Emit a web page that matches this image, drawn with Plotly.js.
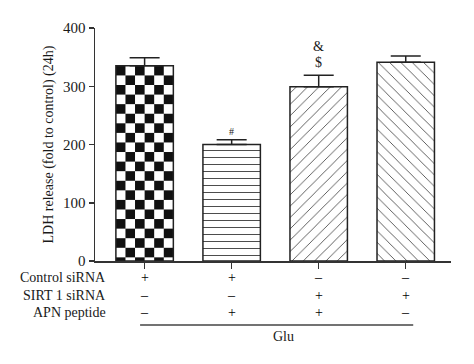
<!DOCTYPE html>
<html>
<head>
<meta charset="utf-8">
<script src="https://cdn.plot.ly/plotly-3.0.1.min.js"></script>
<style>
html,body{margin:0;padding:0;background:#fff;}
#chart{width:474px;height:364px;}
</style>
</head>
<body>
<div id="chart"></div>
<script>
// ---- data ----
var groups = [0, 1, 2, 3];
var ldhValues = [335, 200, 299, 341];
var ldhErrors = [14, 8, 20, 11];
var sigMarks = [[], ["#"], ["$", "&"], []];
var rowLabels = ["Control siRNA", "SIRT 1 siRNA", "APN peptide"];
var controlSiRNA = ["+", "+", "–", "–"];
var sirt1SiRNA = ["–", "–", "+", "+"];
var apnPeptide = ["–", "+", "+", "–"];
var groupLabel = "Glu";
var yTicks = [0, 100, 200, 300, 400];

var FONT = "Liberation Serif, Times New Roman, serif";
var TXT = "#1a1a1a";
var rows = [controlSiRNA, sirt1SiRNA, apnPeptide];
var rowY = [-0.069, -0.146, -0.223];

var trace = {
  type: "bar",
  x: groups,
  y: ldhValues,
  width: 0.66,
  marker: {
    color: "#ffffff",
    line: {color: "#222", width: 1.5},
    pattern: {
      shape: ["", "-", "/", "\\"],
      size: [9, 7, 8, 8],
      solidity: [0.2, 0.13, 0.1, 0.1],
      fgcolor: "#3a3a3a",
      bgcolor: "#ffffff",
      fillmode: "replace"
    }
  },
  error_y: {
    type: "data",
    symmetric: false,
    array: ldhErrors,
    arrayminus: [0, 0, 0, 0],
    color: "#222",
    thickness: 1.5,
    width: 15
  },
  hoverinfo: "none"
};

var annotations = [];
rowLabels.forEach(function (lab, i) {
  annotations.push({
    xref: "paper", yref: "paper", x: 0.037, y: rowY[i],
    xanchor: "right", yanchor: "middle", showarrow: false,
    text: lab, font: {family: FONT, size: 14, color: TXT}
  });
  rows[i].forEach(function (s, j) {
    annotations.push({
      xref: "x", yref: "paper", x: groups[j], y: rowY[i],
      xanchor: "center", yanchor: "middle", showarrow: false,
      text: s, font: {family: FONT, size: 14, color: "#000"}
    });
  });
});
sigMarks.forEach(function (marks, j) {
  marks.forEach(function (m, k) {
    annotations.push({
      xref: "x", yref: "y", x: groups[j], y: ldhValues[j] + ldhErrors[j],
      xanchor: "center", yanchor: "bottom", showarrow: false,
      yshift: (m === "#" ? 1 : 3) + k * 16,
      text: m, font: {family: FONT, size: m === "#" ? 10 : 14, color: TXT}
    });
  });
});
annotations.push({
  xref: "x", yref: "paper", x: 1.59, y: -0.326,
  xanchor: "center", yanchor: "middle", showarrow: false,
  text: groupLabel, font: {family: FONT, size: 14, color: TXT}
});

var layout = {
  width: 474, height: 364,
  margin: {l: 95, r: 23, t: 28, b: 103, pad: 0},
  paper_bgcolor: "#fff", plot_bgcolor: "#fff",
  showlegend: false,
  xaxis: {
    range: [-0.57, 3.52], showgrid: false, zeroline: false,
    showline: true, linecolor: "#333", linewidth: 1.5,
    ticks: "outside", ticklen: 6, tickwidth: 1.5, tickcolor: "#333",
    tickvals: groups, showticklabels: false, automargin: false
  },
  yaxis: {
    range: [0, 400], tickvals: yTicks, showgrid: false, zeroline: false,
    showline: true, linecolor: "#333", linewidth: 1.5,
    ticks: "outside", ticklen: 5, tickwidth: 1.5, tickcolor: "#333",
    tickfont: {family: FONT, size: 15, color: TXT},
    automargin: false,
    title: {text: "LDH release (fold to control) (24h)", standoff: 6,
            font: {family: FONT, size: 14, color: TXT}}
  },
  shapes: [{
    type: "line", xref: "x", yref: "paper",
    x0: -0.052, x1: 3.086, y0: -0.275, y1: -0.275,
    line: {color: "#444", width: 1.5}
  }],
  annotations: annotations
};

Plotly.newPlot("chart", [trace], layout, {staticPlot: true, displayModeBar: false}).then(function (gd) {
  // checkerboard fill for the first bar
  var svgNS = "http://www.w3.org/2000/svg";
  var path = gd.querySelector(".barlayer .trace .point path");
  if (!path) return;
  var bb = path.getBBox();
  var cell = bb.width / 6;
  var defs = gd.querySelector("svg.main-svg defs");
  var pat = document.createElementNS(svgNS, "pattern");
  pat.setAttribute("id", "checkerFill");
  pat.setAttribute("patternUnits", "userSpaceOnUse");
  pat.setAttribute("x", bb.x);
  pat.setAttribute("y", bb.y);
  pat.setAttribute("width", 2 * cell);
  pat.setAttribute("height", 2 * cell);
  var bg = document.createElementNS(svgNS, "rect");
  bg.setAttribute("width", 2 * cell); bg.setAttribute("height", 2 * cell);
  bg.setAttribute("fill", "#fff");
  pat.appendChild(bg);
  [[0, 0], [cell, cell]].forEach(function (p) {
    var r = document.createElementNS(svgNS, "rect");
    r.setAttribute("x", p[0]); r.setAttribute("y", p[1]);
    r.setAttribute("width", cell); r.setAttribute("height", cell);
    r.setAttribute("fill", "#111");
    pat.appendChild(r);
  });
  defs.appendChild(pat);
  path.style.fill = "url(#checkerFill)";
  path.style.fillOpacity = 1;
});
</script>
</body>
</html>
